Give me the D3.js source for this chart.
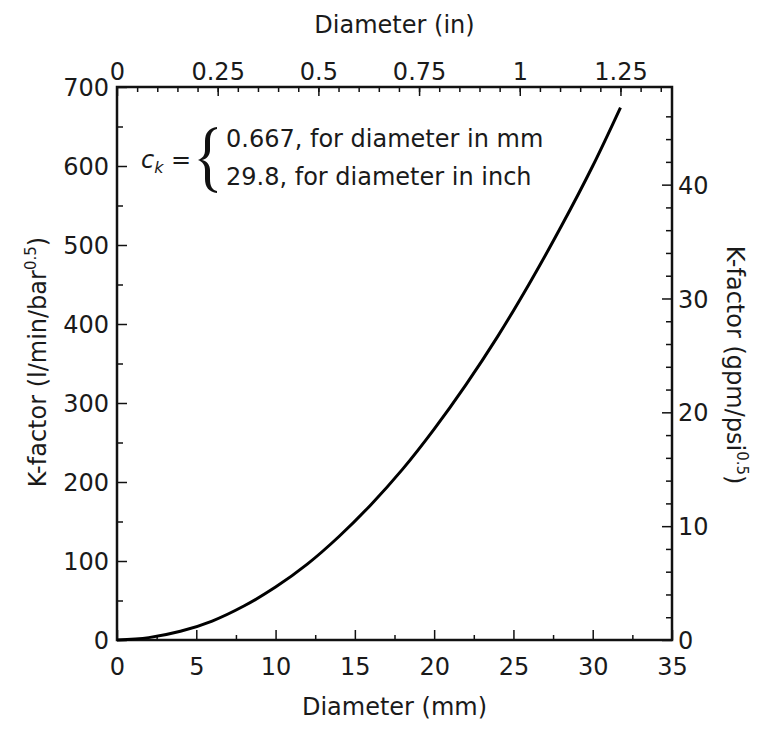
<!DOCTYPE html>
<html>
<head>
<meta charset="utf-8">
<script src="https://cdn.jsdelivr.net/npm/d3@7"></script>
<style>
  body { margin: 0; background: #fff; }
  svg text { font-family: "DejaVu Sans", "Liberation Sans", Arial, sans-serif; fill: #1a1a1a; }
</style>
</head>
<body>
<svg id="chart" width="770" height="742"></svg>
<script>
// diameter (mm) and K-factor (l/min/bar^0.5)
const diameterMm = [0, 2, 4, 6, 8, 10, 12, 14, 16, 18, 20, 22, 24, 26, 28, 30, 31.75];
const kFactor    = [0, 3, 11, 24, 43, 67, 96, 131, 171, 216, 267, 323, 384, 451, 523, 600, 674];

const mmTicks  = [0, 5, 10, 15, 20, 25, 30, 35];
const inTicks  = [0, 0.25, 0.5, 0.75, 1, 1.25];
const kTicks   = [0, 100, 200, 300, 400, 500, 600, 700];
const gpmTicks = [0, 10, 20, 30, 40];

const MM_PER_IN = 25.4;
const LMIN_PER_GPM = 14.41;

const margin = { left: 117, right: 98, top: 87, bottom: 102 };
const width = 770, height = 742;

const svg = d3.select("#chart");

const x = d3.scaleLinear().domain([0, 35]).range([margin.left, width - margin.right]);
const xIn = d3.scaleLinear().domain([0, 35 / MM_PER_IN]).range(x.range());
const y = d3.scaleLinear().domain([0, 700]).range([height - margin.bottom, margin.top]);
const yG = d3.scaleLinear().domain([0, 700 / LMIN_PER_GPM]).range(y.range());

const fs = 24;

// bottom axis (mm)
const axBottom = svg.append("g").attr("transform", `translate(0,${y(0)})`);
axBottom.call(d3.axisTop(x).tickValues(d3.range(2.5, 35, 5)).tickSize(5).tickFormat(""));
axBottom.append("g").call(d3.axisTop(x).tickValues(mmTicks).tickSize(10).tickFormat(d => d));
axBottom.selectAll(".tick text").attr("y", 35).attr("dy", 0);

// top axis (in)
const axTop = svg.append("g").attr("transform", `translate(0,${y(700)})`);
axTop.call(d3.axisBottom(xIn).tickValues(d3.range(0.05, 1.38, 0.05)).tickSize(5).tickFormat(""));
axTop.append("g").call(d3.axisBottom(xIn).tickValues(inTicks).tickSize(9).tickFormat(d => d));
axTop.selectAll(".tick text").attr("y", -7).attr("dy", 0);

// left axis
const axLeft = svg.append("g").attr("transform", `translate(${x(0)},0)`);
axLeft.call(d3.axisRight(y).tickValues(d3.range(50, 700, 100)).tickSize(6).tickFormat(""));
axLeft.append("g").call(d3.axisRight(y).tickValues(kTicks).tickSize(10).tickFormat(d => d));
axLeft.selectAll(".tick text").attr("x", -8).attr("text-anchor", "end").attr("dy", "0.36em");

// right axis
const axRight = svg.append("g").attr("transform", `translate(${x(35)},0)`);
axRight.call(d3.axisLeft(yG).tickValues(d3.range(2, 48, 2).filter(d => d % 10 !== 0)).tickSize(6).tickFormat(""));
axRight.append("g").call(d3.axisLeft(yG).tickValues(gpmTicks).tickSize(10).tickFormat(d => d));
axRight.selectAll(".tick text").attr("x", 6).attr("text-anchor", "start").attr("dy", "0.36em");

svg.selectAll(".domain").remove();
svg.selectAll(".tick line").attr("stroke", "#111").attr("stroke-width", 1.5);
svg.selectAll(".tick text").attr("font-size", fs).attr("fill", "#1a1a1a");

// frame
svg.append("rect")
  .attr("x", x(0)).attr("y", y(700))
  .attr("width", x(35) - x(0)).attr("height", y(0) - y(700))
  .attr("fill", "none").attr("stroke", "#111").attr("stroke-width", 2.5);

// curve
const pts = diameterMm.map((d, i) => [d, kFactor[i]]);
svg.append("path")
  .datum(pts)
  .attr("fill", "none")
  .attr("stroke", "#000")
  .attr("stroke-width", 3)
  .attr("d", d3.line().x(d => x(d[0])).y(d => y(d[1])).curve(d3.curveCatmullRom));

// axis titles
svg.append("text").attr("x", (x(0) + x(35)) / 2).attr("y", 33)
  .attr("text-anchor", "middle").attr("font-size", fs).text("Diameter (in)");
svg.append("text").attr("x", (x(0) + x(35)) / 2).attr("y", 715)
  .attr("text-anchor", "middle").attr("font-size", fs).text("Diameter (mm)");

const yl = svg.append("text").attr("transform", "translate(46,362) rotate(-90)")
  .attr("text-anchor", "middle").attr("font-size", fs);
yl.append("tspan").text("K-factor (l/min/bar");
yl.append("tspan").attr("font-size", 15).attr("dy", -10).text("0.5");
yl.append("tspan").attr("dy", 10).text(")");

const yr = svg.append("text").attr("transform", "translate(727,365) rotate(90)")
  .attr("text-anchor", "middle").attr("font-size", fs);
yr.append("tspan").text("K-factor (gpm/psi");
yr.append("tspan").attr("font-size", 15).attr("dy", -10).text("0.5");
yr.append("tspan").attr("dy", 10).text(")");

// annotation
const ann = svg.append("g");
const ck = ann.append("text").attr("x", 141).attr("y", 168).attr("font-size", fs);
ck.append("tspan").attr("font-style", "italic").text("c");
ck.append("tspan").attr("font-style", "italic").attr("font-size", 16).attr("dy", 5).text("k");
ck.append("tspan").attr("dy", -5).text(" =");
ann.append("path")
  .attr("d", "M217,127 C209,128 205,133 205,141 L205,150 C205,155 203,158 198,160 " +
             "C203,162 205,165 205,170 L205,179 C205,187 209,192 217,193 " +
             "L217,191 C212,190 210,186 210,179 L210,170 C210,165 207,161 202,160 " +
             "C207,159 210,155 210,150 L210,141 C210,134 212,130 217,129 Z")
  .attr("fill", "#111");
ann.append("text").attr("x", 226).attr("y", 147).attr("font-size", fs).text("0.667, for diameter in mm");
ann.append("text").attr("x", 226).attr("y", 185).attr("font-size", fs).text("29.8, for diameter in inch");
</script>
</body>
</html>
